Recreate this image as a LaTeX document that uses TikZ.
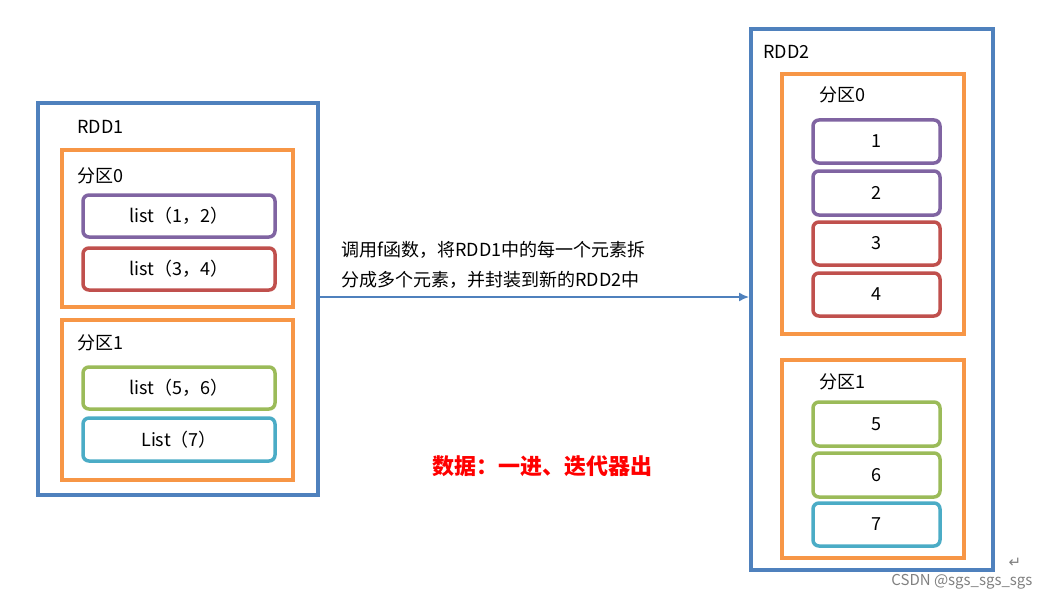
\documentclass[tikz,border=0pt]{standalone}
\usepackage{fontspec}
\usetikzlibrary{arrows.meta}
\setmainfont{Noto Sans CJK SC}
\newfontfamily\dejavu{DejaVu Sans}
\definecolor{cb}{HTML}{4F81BD}
\definecolor{co}{HTML}{F79646}
\definecolor{cp}{HTML}{8064A2}
\definecolor{cr}{HTML}{C0504D}
\definecolor{cg}{HTML}{9BBB59}
\definecolor{cc}{HTML}{4BACC6}
\begin{document}
\begin{tikzpicture}[x=1pt,y=-1pt,
  box/.style={draw=#1,line width=3.5pt},
  item/.style={draw=#1,line width=3.5pt,rounded corners=6pt},
  lab/.style={anchor=west,font=\fontsize{18}{20}\selectfont},
  txt/.style={font=\fontsize{18}{20}\selectfont}]
\useasboundingbox (0,0) rectangle (1049,599);
\draw[box=cb] (38,103) rectangle (318,495);
\node[lab] at (74,127) {RDD1};
\draw[box=co] (62,150) rectangle (293,307);
\node[lab] at (74,176) {分区0};
\draw[item=cp] (83,195) rectangle (275,237) node[midway,txt] (l12) {list（1，2）};
\draw[item=cr] (83,248) rectangle (275,290) node[midway,txt] (l34) {list（3，4）};
\draw[box=co] (62,320) rectangle (293,480);
\node[lab] at (74,343) {分区1};
\draw[item=cg] (83,367) rectangle (275,409) node[midway,txt] (l56) {list（5，6）};
\draw[item=cc] (83,418) rectangle (275,461) node[midway,txt] (l7) {List（7）};

\draw[box=cb] (751,29) rectangle (993,570);
\node[lab] at (760,52) {RDD2};
\draw[box=co] (782,74) rectangle (964,334);
\node[lab] at (816,95) {分区0};
\draw[item=cp] (813,120) rectangle (940,163) node[midway,txt] (i1) {1};
\draw[item=cp] (813,171) rectangle (940,215) node[midway,txt] (i2) {2};
\draw[item=cr] (813,222) rectangle (940,265) node[midway,txt] (i3) {3};
\draw[item=cr] (813,273) rectangle (940,316) node[midway,txt] (i4) {4};
\draw[box=co] (782,360) rectangle (964,558);
\node[lab] at (816,382) {分区1};
\draw[item=cg] (813,402) rectangle (940,446) node[midway,txt] (i5) {5};
\draw[item=cg] (813,453) rectangle (940,497) node[midway,txt] (i6) {6};
\draw[item=cc] (813,503) rectangle (940,546) node[midway,txt] (i7) {7};

\coordinate (a) at (320,297);
\coordinate (b) at (749,297);
\draw[cb,line width=1.5pt,-{Latex[length=10pt,width=9pt]}] (a) -- (b);
\node[align=left,font=\fontsize{18}{30}\selectfont,anchor=west] (t) at (338,265) {调用f函数，将RDD1中的每一个元素拆\\分成多个元素，并封装到新的RDD2中};
\node[text=red,font=\bfseries\fontsize{22}{24}\selectfont] (d) at (542,466) {数据：一进、迭代器出};
\node[text=gray,font=\fontsize{15}{16}\selectfont,anchor=east] (w) at (1036,582) {CSDN @sgs\_sgs\_sgs};
\node[text=gray,font=\dejavu\fontsize{15}{15}\selectfont,inner sep=0pt] (r) at (1015,563) {↵};
\end{tikzpicture}
\end{document}
